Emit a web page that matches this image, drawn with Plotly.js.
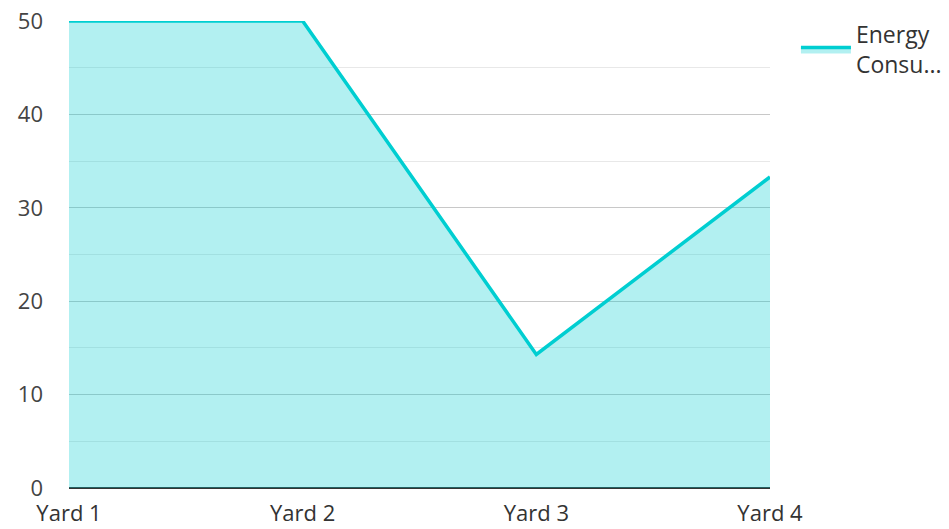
<!DOCTYPE html>
<html>
<head>
<meta charset="utf-8">
<script src="https://cdn.plot.ly/plotly-3.0.1.min.js"></script>
<style>html,body{margin:0;padding:0;background:#fff;}#chart{width:949px;height:529px;}</style>
</head>
<body>
<div id="chart"></div>
<script>
const categories = ["Yard 1", "Yard 2", "Yard 3", "Yard 4"];
const energyConsumption = [50, 50, 14.3, 33.3];
const seriesName = "Energy<br>Consu...";
const yTicks = [0, 10, 20, 30, 40, 50];

const trace = {
  x: categories,
  y: energyConsumption,
  type: "scatter",
  mode: "lines",
  name: seriesName,
  fill: "tozeroy",
  fillcolor: "rgba(0,206,209,0.3)",
  line: {color: "#00CED1", width: 3.5}
};

const layout = {
  width: 949,
  height: 529,
  margin: {l: 69, r: 179, t: 21, b: 41, autoexpand: false},
  paper_bgcolor: "#fff",
  plot_bgcolor: "#fff",
  font: {family: "Open Sans, sans-serif", size: 23, color: "#444"},
  showlegend: true,
  legend: {x: 1.037, y: 1.017, xanchor: "left", yanchor: "top", itemwidth: 50, font: {size: 23, color: "#333"}},
  xaxis: {
    type: "category",
    range: [0, 3],
    showgrid: false,
    zeroline: false,
    showline: false,
    ticks: "",
    automargin: false,
    ticklabelstandoff: 10,
    tickfont: {size: 22, color: "#333"}
  },
  yaxis: {
    range: [0, 50],
    tickvals: yTicks,
    showgrid: true,
    gridcolor: "#c8c8c8",
    gridwidth: 1,
    zeroline: true,
    zerolinecolor: "#333",
    zerolinewidth: 2,
    ticks: "",
    automargin: false,
    ticklabelstandoff: 25,
    tickfont: {size: 22, color: "#444"},
    minor: {dtick: 5, showgrid: true, gridcolor: "#e8e8e8", gridwidth: 1}
  }
};

Plotly.newPlot("chart", [trace], layout, {displayModeBar: false, staticPlot: true});
</script>
</body>
</html>
